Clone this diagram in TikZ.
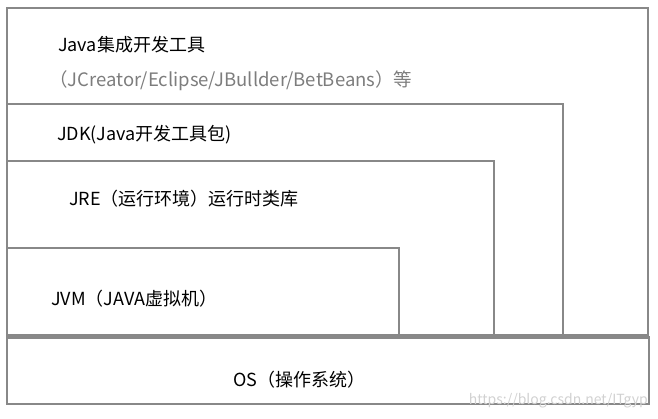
\documentclass[tikz,border=0pt]{standalone}
\usepackage{fontspec}
\setmainfont{Noto Sans CJK SC}
\definecolor{boxgray}{RGB}{136,136,136}
\definecolor{notegray}{RGB}{125,125,125}
\tikzset{
  layer/.style={draw=boxgray, line width=2.5pt},
  label/.style={anchor=west, inner sep=0pt, font=\fontsize{18}{21}\selectfont},
}
\begin{document}
\begin{tikzpicture}[x=1pt,y=-1pt]
\useasboundingbox (0,0) rectangle (658,418);
\draw[layer] (7,8) rectangle (648,335);
\draw[layer] (7,104) rectangle (563,335);
\draw[layer] (7,161) rectangle (494,335);
\draw[layer] (7,248) rectangle (399,335);
\draw[layer] (7,337.5) rectangle (649,404);
\node[label] (ide) at (58,45) {Java集成开发工具};
\node[label, text=notegray, font=\fontsize{18.5}{21}\selectfont] (idelist) at (49,81) {（JCreator/Eclipse/JBullder/BetBeans）等};
\node[label] (jdk) at (57,135) {JDK(Java开发工具包)};
\node[label] (jre) at (69,199) {JRE（运行环境）运行时类库};
\node[label] (jvm) at (51,299) {JVM（JAVA虚拟机）};
\node[label] (os) at (233,380) {OS（操作系统）};
\node[anchor=east, inner sep=0pt, text=black!18, font=\fontsize{14}{16}\selectfont] (mark) at (648,401) {https://blog.csdn.net/ITgyp};
\end{tikzpicture}
\end{document}
